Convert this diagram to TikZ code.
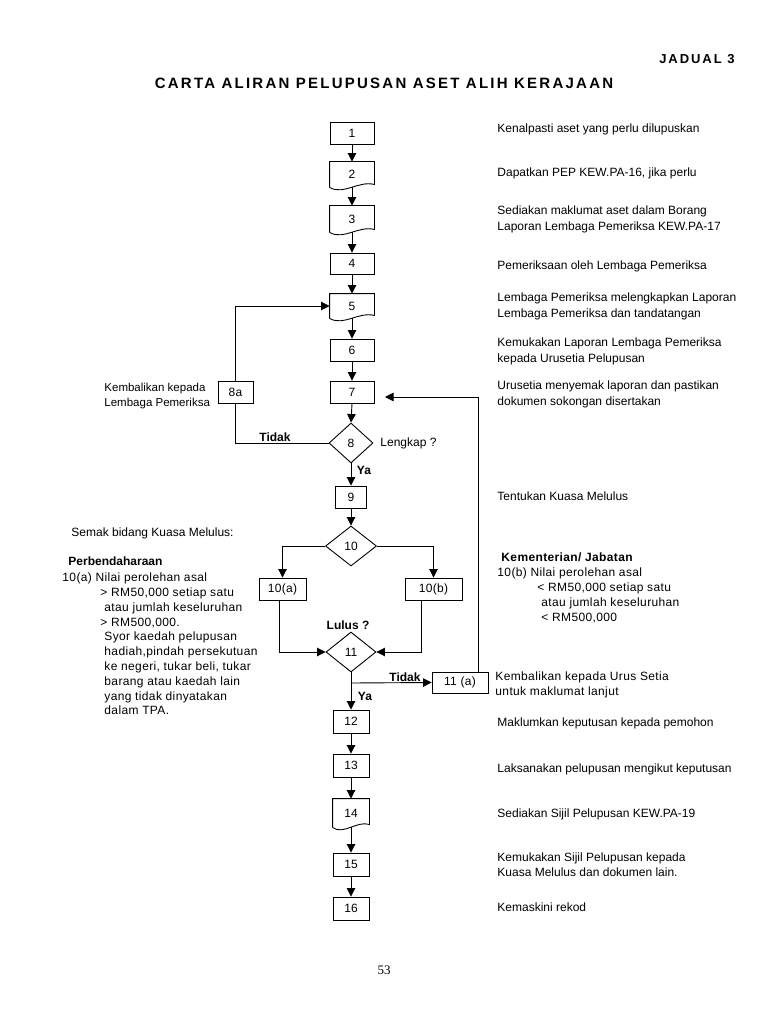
\documentclass[tikz,border=0pt]{standalone}
\usepackage{fontspec}
\setmainfont{Liberation Sans}
\newfontfamily\spfont[LetterSpace=3]{Liberation Sans}
\newfontfamily\titlefont[LetterSpace=15]{Liberation Sans}
\newfontfamily\jadfont[LetterSpace=15]{Liberation Sans}
\newfontfamily\pgnum{Liberation Serif}
\usetikzlibrary{arrows.meta,shapes.geometric,calc}
\begin{document}
\begin{tikzpicture}[x=1pt,y=-1pt,line width=0.9pt,
  box/.style={draw,minimum width=44pt,minimum height=22pt,inner sep=0pt,font=\fontsize{12}{14}\selectfont},
  sbox/.style={box,minimum width=36pt,minimum height=23pt},
  docbox/.style={box,draw=none},
  dec/.style={draw,diamond,inner sep=0pt,minimum width=44pt,minimum height=40pt,font=\fontsize{12}{14}\selectfont},
  arr/.style={-{Triangle[length=8.5pt,width=8.5pt]}},
  desc/.style={anchor=north west,inner sep=0pt,align=left,font=\fontsize{12}{15.5}\selectfont},
  lab/.style={inner sep=0pt,font=\bfseries\fontsize{12}{14}\selectfont},
]
\useasboundingbox (0,0) rectangle (768,1024);

% titles
\node[anchor=east,inner sep=0pt,font=\jadfont\bfseries\fontsize{13}{15}\selectfont] (jad) at (735,59) {JADUAL 3};
\node[inner sep=0pt,font=\titlefont\bfseries\fontsize{15}{17}\selectfont] (title) at (384,83) {CARTA ALIRAN PELUPUSAN ASET ALIH KERAJAAN};

% main column
\node[box] (b1) at (352,133) {1};
\node[docbox,minimum height=25pt] (b2) at (352,174.5) {2};
\node[docbox,minimum height=26pt] (b3) at (352,219) {3};
\node[box,minimum height=21pt] (b4) at (352,263.5) {4};
\node[docbox,minimum height=24pt] (b5) at (352,306) {5};
\node[box] (b6) at (352,350) {6};
\node[box] (b7) at (352,392) {7};
\node[dec] (d8) at (351,443) {8};
\node[box,minimum width=35pt] (b8a) at (235.5,392) {\spfont 8a};
\node[box,minimum width=31pt] (b9) at (351,497) {9};
\node[dec,minimum width=51pt] (d10) at (351,546) {10};
\node[box,minimum width=47pt] (b10a) at (282.5,589) {\spfont 10(a)};
\node[box,minimum width=57pt] (b10b) at (433.5,589) {\spfont 10(b)};
\node[dec,minimum width=50pt] (d11) at (351,652) {11};
\node[box,minimum width=56pt,minimum height=21pt] (b11a) at (460,682.5) {\spfont 11 (a)};
\node[sbox] (b12) at (351,721.5) {12};
\node[sbox] (b13) at (351,765.5) {13};
\node[docbox,minimum width=36pt,minimum height=28pt] (b14) at (351,813) {14};
\node[sbox] (b15) at (351,864.5) {15};
\node[sbox] (b16) at (351,908.5) {16};

% document shapes
\foreach \n in {b2,b3,b5,b14}{
  \draw (\n.south west) -- (\n.north west) -- (\n.north east) -- ($(\n.south east)+(0,-3)$)
    .. controls ($(\n.south)+(6,-7)$) and ($(\n.south)+(-8,8)$) .. (\n.south west);
}

% connectors
\draw[arr] (b1.south) -- (b2.north);
\draw[arr] (b2.south) -- (b3.north);
\draw[arr] (b3.south) -- (b4.north);
\draw[arr] (b4.south) -- (b5.north);
\draw[arr] (b5.south) -- (b6.north);
\draw[arr] (b6.south) -- (b7.north);
\draw[arr] (b7.south) -- (d8.north);
\draw (d8.west) -| (b8a.south);
\draw[arr] (b8a.north) |- (b5.west);
\draw[arr] (d8.south) -- (b9.north);
\draw[arr] (b9.south) -- (d10.north);
\draw[arr] (d10.west) -| (b10a.north);
\draw[arr] (d10.east) -| (b10b.north);
\draw[arr] ([xshift=-3pt]b10a.south) |- (d11.west);
\draw[arr] ([xshift=-12pt]b10b.south) |- (d11.east);
\draw[arr] (d11.south) -- (b12.north);
\coordinate (br) at (351,683);
\draw[arr] (br) -- (b11a.west);
\coordinate (ret) at (385,397);
\draw[arr] ([xshift=18pt]b11a.north) |- (ret);
\draw[arr] (b12.south) -- (b13.north);
\draw[arr] (b13.south) -- (b14.north);
\draw[arr] (b14.south) -- (b15.north);
\draw[arr] (b15.south) -- (b16.north);

% connector labels
\node[lab] (t8) at (275,437) {Tidak};
\node[anchor=west,inner sep=0pt,font=\fontsize{12}{14}\selectfont] (l8) at (380,443) {Lengkap ?};
\node[lab] (y8) at (364,470) {Ya};
\node[lab] (lulus) at (348,625) {Lulus ?};
\node[lab] (t11) at (405,677) {Tidak};
\node[lab] (y11) at (365,696) {Ya};

% right descriptions
\node[desc] (r1) at (497,123.5) {Kenalpasti aset yang perlu dilupuskan};
\node[desc] (r2) at (497,167.5) {Dapatkan PEP KEW.PA-16, jika perlu};
\node[desc] (r3) at (497,205.5) {Sediakan maklumat aset dalam Borang\\Laporan Lembaga Pemeriksa KEW.PA-17};
\node[desc] (r4) at (497,260.5) {Pemeriksaan oleh Lembaga Pemeriksa};
\node[desc] (r5) at (497,292.5) {Lembaga Pemeriksa melengkapkan Laporan\\Lembaga Pemeriksa dan tandatangan};
\node[desc] (r6) at (497,337.5) {Kemukakan Laporan Lembaga Pemeriksa\\kepada Urusetia Pelupusan};
\node[desc] (r7) at (497,380.5) {Urusetia menyemak laporan dan pastikan\\dokumen sokongan disertakan};
\node[desc] (r9) at (497,491.5) {Tentukan Kuasa Melulus};
\node[desc,font=\spfont\fontsize{12}{15}\selectfont] (r10b) at (497,552.5) {\hspace*{4pt}\textbf{Kementerian/ Jabatan}\\10(b) Nilai perolehan asal\\\hspace*{40pt}< RM50,000 setiap satu\\\hspace*{44pt}atau jumlah keseluruhan\\\hspace*{44pt}< RM500,000};
\node[desc,font=\spfont\fontsize{12}{14.5}\selectfont] (r11a) at (495,671.5) {Kembalikan kepada Urus Setia\\untuk maklumat lanjut};
\node[desc] (r12) at (497,717.5) {Maklumkan keputusan kepada pemohon};
\node[desc] (r13) at (497,763.5) {Laksanakan pelupusan mengikut keputusan};
\node[desc] (r14) at (497,808.5) {Sediakan Sijil Pelupusan KEW.PA-19};
\node[desc,font=\fontsize{12}{15}\selectfont] (r15) at (497,852.5) {Kemukakan Sijil Pelupusan kepada\\Kuasa Melulus dan dokumen lain.};
\node[desc] (r16) at (497,902.5) {Kemaskini rekod};

% left descriptions
\node[desc,font=\fontsize{11.5}{15}\selectfont] (l8a) at (104,383) {Kembalikan kepada\\Lembaga Pemeriksa};
\node[desc] (semak) at (71,527.5) {Semak bidang Kuasa Melulus:};
\node[desc,font=\bfseries\fontsize{12}{15}\selectfont] (perb) at (68,556.5) {Perbendaharaan};
\node[desc,font=\spfont\fontsize{12}{14.8}\selectfont] (l10a) at (62,572.5) {10(a) Nilai perolehan asal\\\hspace*{38pt}> RM50,000 setiap satu\\\hspace*{42pt}atau jumlah keseluruhan\\\hspace*{38pt}> RM500,000.\\\hspace*{42pt}Syor kaedah pelupusan\\\hspace*{42pt}hadiah,pindah persekutuan\\\hspace*{42pt}ke negeri, tukar beli, tukar\\\hspace*{42pt}barang atau kaedah lain\\\hspace*{42pt}yang tidak dinyatakan\\\hspace*{42pt}dalam TPA.};

% page number
\node[inner sep=0pt,font=\pgnum\fontsize{13}{15}\selectfont] (pg) at (384,970) {53};
\end{tikzpicture}
\end{document}
